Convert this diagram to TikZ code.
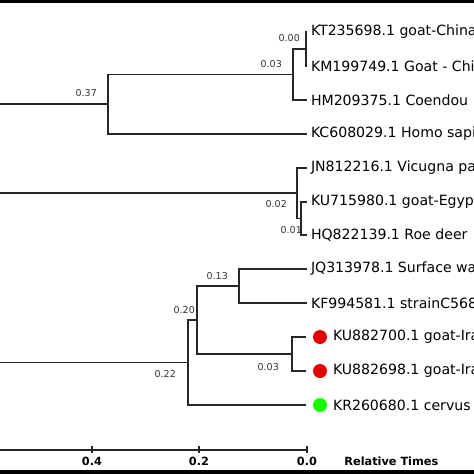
\documentclass[tikz,border=0pt]{standalone}
\usepackage{fontspec}
\setmainfont{DejaVu Sans}
\usetikzlibrary{positioning, calc}

\begin{document}
\begin{tikzpicture}[
    x=1pt, y=-1pt,
    branch/.style={draw=black!85, line width=1.7pt},
    leaf/.style={
        anchor=west, inner sep=2pt, outer sep=2pt,
        font=\fontsize{14.1}{16}\selectfont,
    },
    age/.style={font=\fontsize{9.5}{10}\selectfont, text=black!80, inner sep=0pt},
    dot/.style={circle, minimum size=14pt, inner sep=0pt, outer sep=7.5pt},
    scalelabel/.style={font=\bfseries\fontsize{11.3}{12}\selectfont, inner sep=0pt},
]

% --- Canvas and frame bars ---
\fill[white] (0,0) rectangle (474,474);
\useasboundingbox (0,0) rectangle (474,474);
\fill[black] (0,0) rectangle (474,3);
\fill[black] (0,470) rectangle (474,474);

% --- Internal nodes (x = relative time) ---
\coordinate (n00)  at (306,49);
\coordinate (n03a) at (293,74.5);
\coordinate (n37)  at (108,104.25);
\coordinate (n01)  at (301,218.5);
\coordinate (n02)  at (297,193.25);
\coordinate (n13)  at (239,286);
\coordinate (n03b) at (292,354);
\coordinate (n20)  at (197,320);
\coordinate (n22)  at (188,362.5);

% --- Free ends towards the root (cropped) ---
\coordinate (root1) at (0,104.25);
\coordinate (root2) at (0,193.25);
\coordinate (root3) at (0,362.5);

% --- Leaves ---
\node[leaf] (kt)  at (307,32)  {KT235698.1 goat-China};
\node[leaf] (km)  at (307,66)  {KM199749.1 Goat - Chi};
\node[leaf] (hm)  at (307,100) {HM209375.1 Coendou};
\node[leaf] (kc)  at (307,134) {KC608029.1 Homo sapi};
\node[leaf] (jn)  at (307,168) {JN812216.1 Vicugna pa};
\node[leaf] (ku7) at (307,202) {KU715980.1 goat-Egypt};
\node[leaf] (hq)  at (307,235) {HQ822139.1 Roe deer};
\node[leaf] (jq)  at (307,269) {JQ313978.1 Surface wa};
\node[leaf] (kf)  at (307,303) {KF994581.1 strainC568};

\node[dot, fill=red!90!black] (d700) at (320,337) {};
\node[dot, fill=red!90!black] (d698) at (320,371) {};
\node[dot, fill=green!90!lime] (d680) at (320,405) {};
\node[leaf] (ku700) at (329,337) {KU882700.1 goat-Ira};
\node[leaf] (ku698) at (329,371) {KU882698.1 goat-Ira};
\node[leaf] (kr)    at (329,405) {KR260680.1 cervus e};

% --- Branches ---
\draw[branch] (root1) -- (n37);
\draw[branch] (root2) -- (n02);
\draw[branch] (root3) -- (n22);

\draw[branch] (n37) |- (n03a);
\draw[branch] (n37) |- (kc);
\draw[branch] (n03a) |- (n00);
\draw[branch] (n03a) |- (hm);
\draw[branch] (n00) |- (kt);
\draw[branch] (n00) |- (km);

\draw[branch] (n02) |- (jn);
\draw[branch] (n02) |- (n01);
\draw[branch] (n01) |- (ku7);
\draw[branch] (n01) |- (hq);

\draw[branch] (n22) |- (n20);
\draw[branch] (n22) |- (d680);
\draw[branch] (n20) |- (n13);
\draw[branch] (n20) |- (n03b);
\draw[branch] (n13) |- (jq);
\draw[branch] (n13) |- (kf);
\draw[branch] (n03b) |- (d700);
\draw[branch] (n03b) |- (d698);

% --- Node ages ---
\node[age, above left=7pt and 11pt of n37]   {0.37};
\node[age, above left=7pt and 11pt of n03a]  {0.03};
\node[age, above left=7.5pt and 6pt of n00]  {0.00};
\node[age, below left=7pt and 10pt of n02]   {0.02};
\node[age, below left=8pt and -1pt of n01]   {0.01};
\node[age, above left=6pt and 11pt of n13]   {0.13};
\node[age, above left=6pt and 2pt of n20]    {0.20};
\node[age, below left=9.5pt and 13pt of n03b] {0.03};
\node[age, below left=7.5pt and 12pt of n22] {0.22};

% --- Time axis ---
\coordinate (ax) at (0,450);
\coordinate (t4) at (92,450);
\coordinate (t2) at (199,450);
\coordinate (t0) at (307,450);
\draw[branch, line width=1.5pt] (ax) -- (t0);
\foreach \t in {t4, t2, t0}{
    \draw[branch, line width=1.5pt] ([yshift=4pt]\t) -- ([yshift=-3pt]\t);
}
\node[scalelabel, below=7pt of t4] (l4) {0.4};
\node[scalelabel, below=7pt of t2] (l2) {0.2};
\node[scalelabel, below=7pt of t0] (l0) {0.0};
\node[scalelabel, right=27pt of l0] {Relative Times};

\end{tikzpicture}
\end{document}
